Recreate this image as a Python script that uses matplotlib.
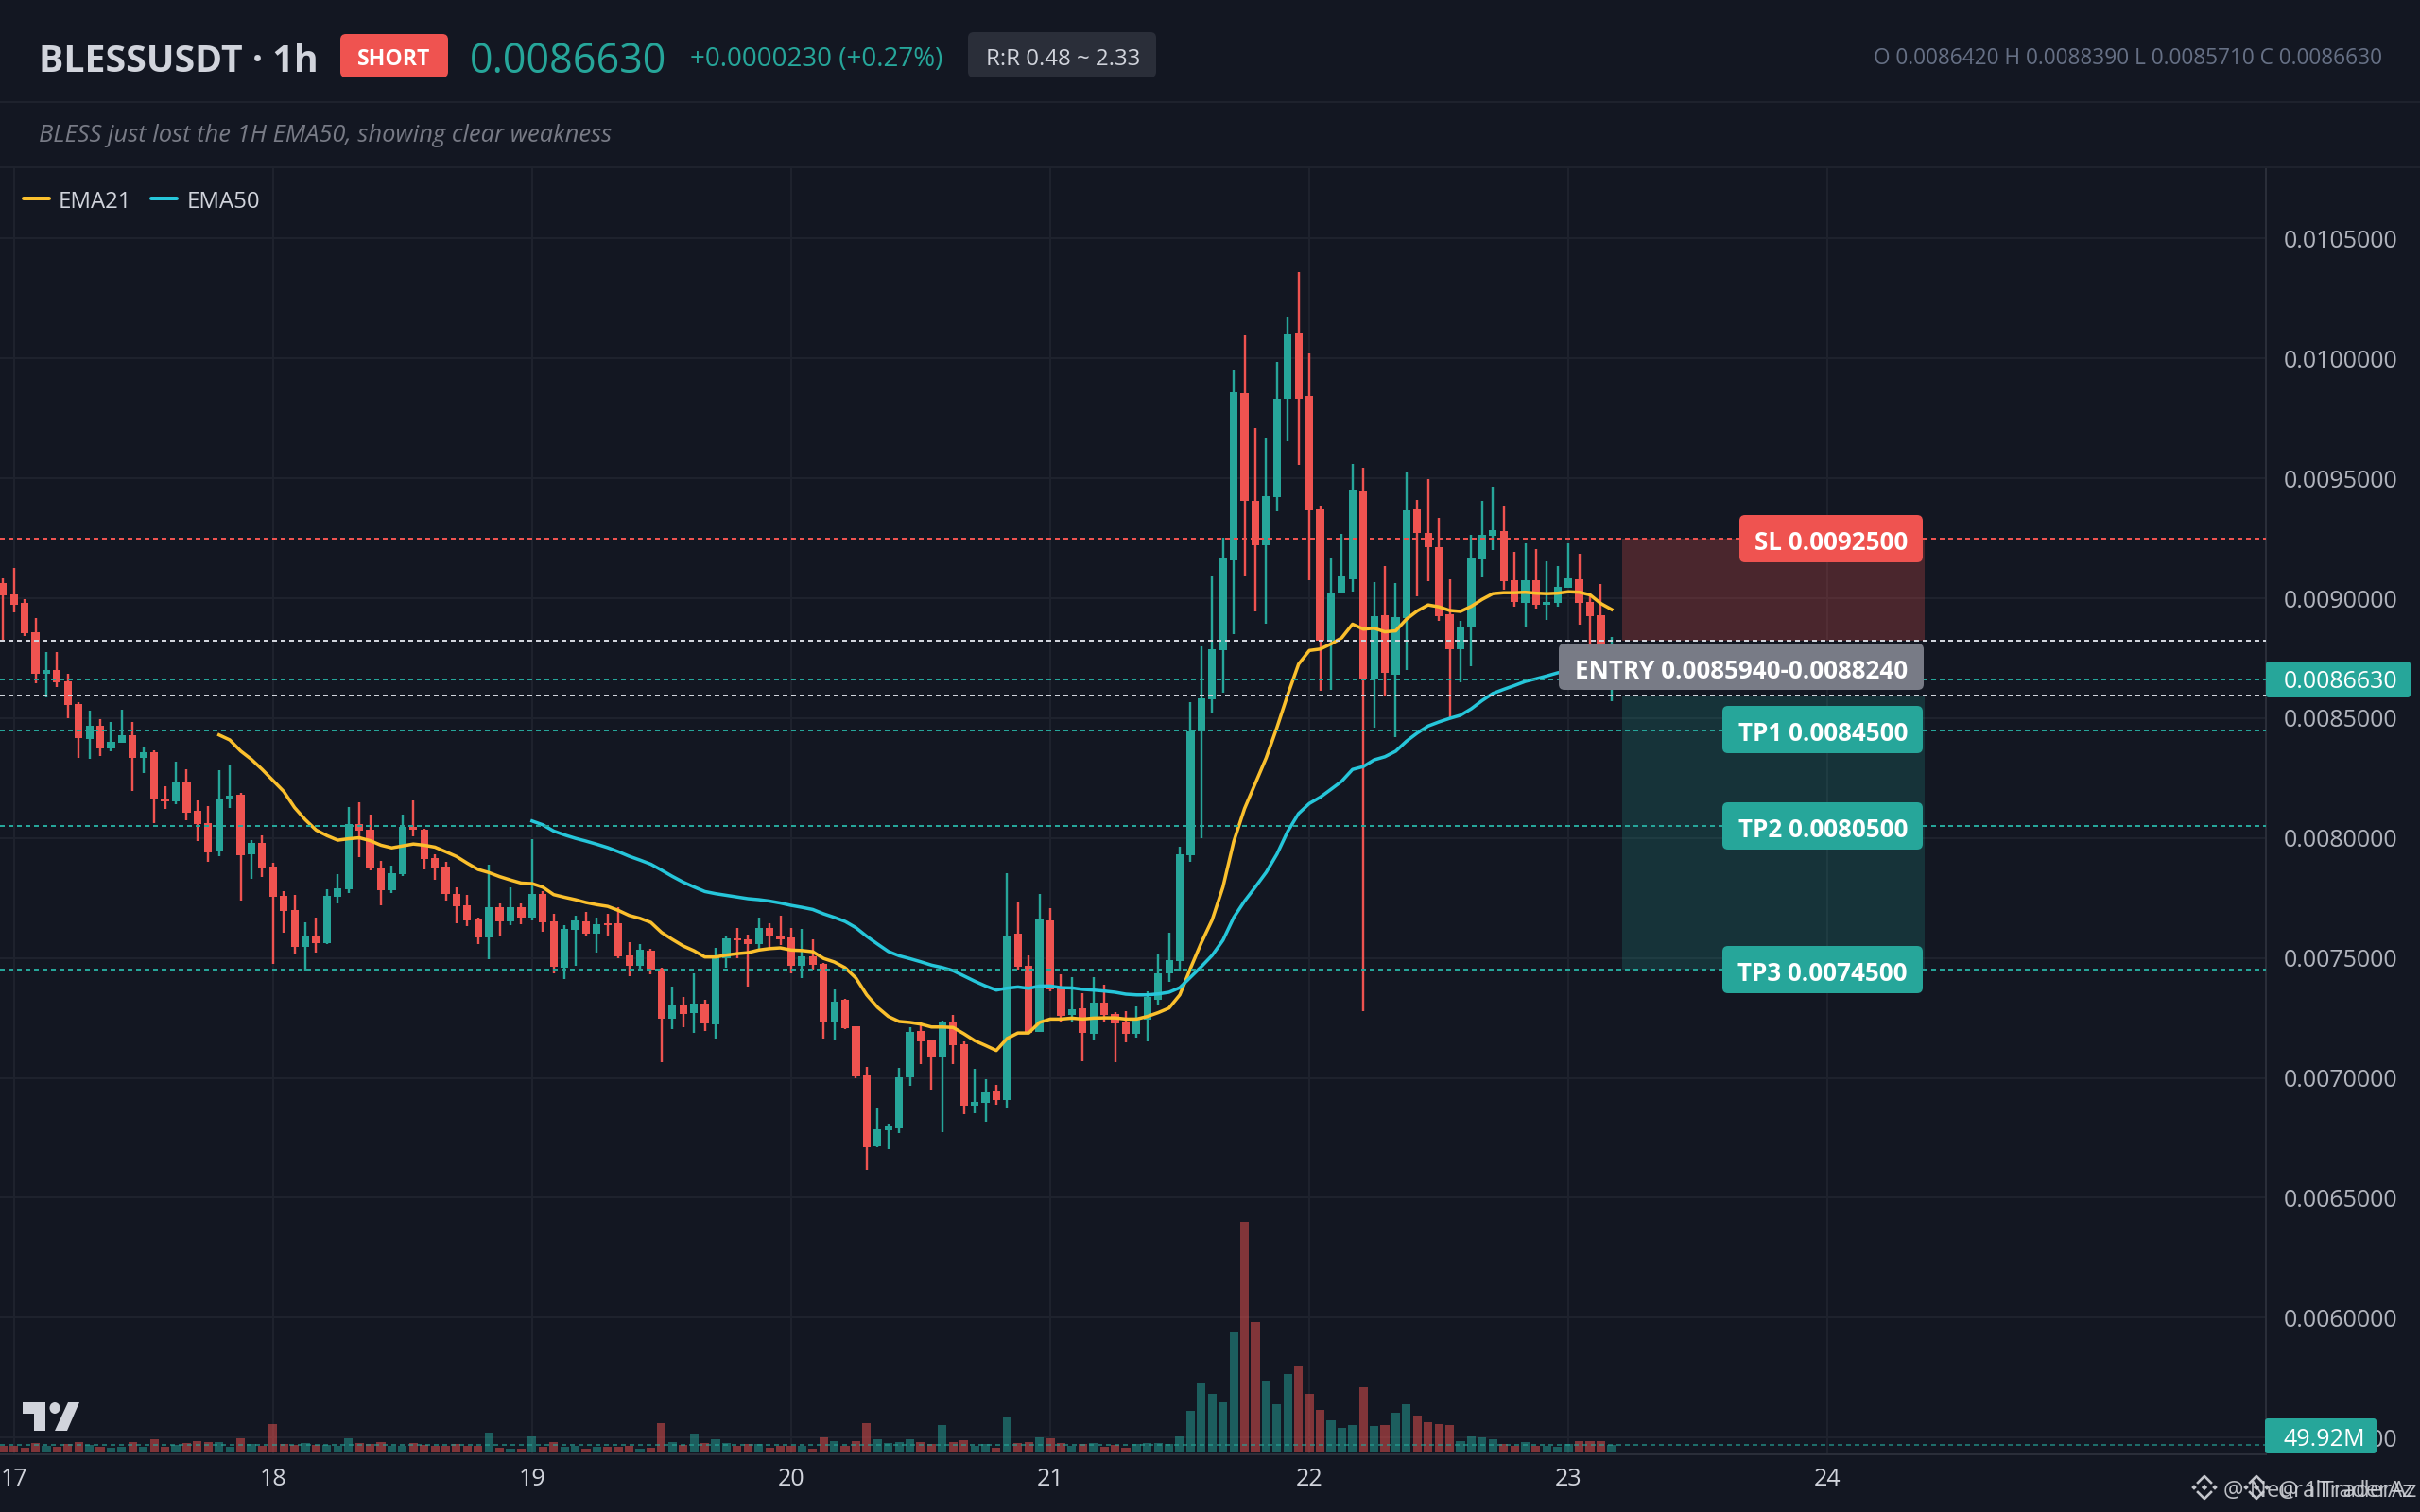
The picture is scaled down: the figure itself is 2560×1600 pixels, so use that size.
import matplotlib
matplotlib.use("Agg")
import matplotlib.pyplot as plt
from matplotlib.patches import FancyBboxPatch, Polygon, Ellipse, Rectangle

plt.rcParams['font.family'] = ['Open Sans', 'DejaVu Sans']

# ---- data (prices in 1e-6 units, volume in millions, x = hours since the 17th 00:00) ----
first_hour = -1
opens = [9062,9014,8979,8857,8684,8699,8652,8558,8412,8467,8373,8396,8428,8333,8357,8160,8152,8235,8113,8062,
 7944,8160,8180,7932,7979,7881,7758,7699,7546,7593,7562,7755,7786,8058,8034,7877,7782,7849,8046,8034,7916,7881,
 7766,7719,7660,7585,7711,7652,7711,7668,7766,7652,7459,7617,7652,7601,7644,7644,7510,7467,7530,7455,7247,7306,
 7270,7310,7223,7498,7581,7577,7558,7624,7593,7585,7467,7506,7475,7231,7325,7215,7010,6715,6782,6790,7002,7195,
 7156,7085,7231,7140,6884,6896,6943,6908,7601,7467,7191,7656,7373,7262,7290,7184,7313,7266,7231,7184,7241,7327,
 7437,7488,7929,8444,8577,8784,9158,9857,9407,9221,9422,9831,10108,9844,9371,8822,9021,9080,9447,8666,8930,8681,
 8917,9371,9272,9211,8934,8788,8879,9162,9259,9280,9076,8980,9076,8974,8980,9044,9080,8985,8930,8642]
highs = [9081,9125,8995,8916,8777,8777,8686,8566,8530,8495,8483,8534,8483,8377,8365,8215,8317,8286,8156,8132,
 8282,8302,8188,7991,8010,7895,7778,7762,7648,7668,7786,7849,8129,8148,8097,7904,7884,8097,8156,8038,7932,7900,
 7794,7762,7668,7888,7727,7794,7727,7995,7778,7684,7636,7676,7692,7668,7684,7711,7565,7558,7538,7459,7380,7337,
 7436,7325,7542,7593,7624,7597,7668,7644,7676,7624,7621,7577,7479,7369,7329,7215,7046,6876,6810,7042,7211,7231,
 7160,7239,7262,7152,7038,6995,6971,7853,7731,7510,7766,7707,7432,7420,7353,7420,7388,7274,7278,7298,7359,7515,
 7606,7963,8567,8799,9095,9253,9948,10097,9711,9667,9986,10176,10361,10022,9386,9166,9270,9561,9544,9067,9135,9063,
 9525,9411,9498,9335,9080,8907,9266,9407,9466,9388,9194,9230,9206,9152,9135,9230,9185,9010,9059,8839]
lows = [8824,8940,8842,8646,8587,8630,8499,8333,8329,8341,8361,8396,8195,8270,8062,8121,8140,8073,7987,7900,
 7924,8125,7739,7829,7837,7475,7605,7514,7449,7522,7558,7727,7770,7920,7865,7719,7770,7841,8006,7869,7825,7739,
 7644,7633,7558,7495,7589,7636,7640,7656,7609,7436,7412,7467,7589,7522,7593,7498,7424,7455,7432,7065,7203,7211,
 7187,7195,7164,7459,7498,7380,7534,7538,7554,7436,7416,7451,7164,7160,7203,6999,6617,6711,6703,6770,6967,7058,
 6951,6774,7058,6849,6853,6817,6888,6876,7451,7187,7191,7361,7235,7235,7069,7160,7235,7065,7148,7168,7152,7306,
 7401,7443,7902,8001,8524,8607,8852,9092,8945,8894,9363,9654,9557,9075,8615,8619,9021,9029,7279,8461,8592,8421,
 8702,9008,9071,8907,8503,8649,8717,9088,9200,9035,8966,8879,8955,8911,8966,9044,8890,8799,8620,8571]
closes = [9012,8971,8854,8684,8699,8650,8555,8416,8467,8373,8400,8428,8333,8357,8160,8152,8235,8105,8058,7940,
 8164,8176,7928,7979,7877,7755,7695,7546,7593,7562,7758,7790,8058,8030,7873,7782,7853,8046,8034,7912,7877,7766,
 7715,7656,7585,7711,7652,7711,7668,7766,7648,7463,7621,7656,7601,7640,7636,7506,7467,7534,7451,7247,7306,7266,
 7310,7227,7502,7581,7573,7558,7624,7589,7577,7467,7506,7471,7235,7317,7207,7006,6711,6786,6798,7002,7191,7152,
 7089,7235,7136,6884,6900,6939,6908,7593,7463,7187,7660,7369,7258,7286,7187,7313,7262,7227,7184,7241,7337,7437,
 7492,7933,8446,8584,8788,9166,9861,9407,9221,9426,9831,10104,9831,9367,8822,9025,9092,9453,8664,8926,8689,8921,
 9367,9272,9211,8926,8788,8883,9171,9266,9285,9071,8985,9076,8972,8985,9048,9084,8980,8926,8642,8663]
volumes = [42,42,30,60,42,36,54,66,48,36,30,36,66,36,84,36,48,60,72,66,66,36,90,54,42,180,54,48,60,48,48,42,90,60,
 54,66,42,42,60,48,42,42,54,42,42,126,30,24,24,102,36,66,36,42,24,36,36,36,42,24,30,186,66,48,120,60,84,60,42,54,
 54,30,42,42,42,24,96,72,42,72,186,84,60,66,84,66,54,174,66,78,42,54,30,228,60,66,96,90,60,42,54,60,36,48,30,54,60,
 60,54,102,264,444,372,318,762,1464,828,456,306,498,546,372,270,204,156,174,414,168,174,252,306,234,192,180,174,
 72,102,96,84,54,42,66,42,42,36,54,72,72,72,50]

ema21_start = 19
ema21 = [8430,8409,8363,8328,8286,8240,8194,8127,8076,8033,8010,7991,7997,8001,7989,7970,7959,7967,7975,7970,7962,
 7943,7923,7895,7869,7856,7839,7825,7812,7810,7795,7764,7753,7743,7731,7722,7715,7698,7677,7665,7648,7606,7577,
 7550,7530,7504,7504,7512,7518,7522,7533,7539,7542,7533,7531,7526,7498,7483,7459,7416,7346,7294,7256,7235,7231,
 7224,7212,7212,7210,7184,7155,7135,7114,7164,7187,7187,7231,7245,7245,7249,7245,7249,7250,7250,7245,7245,7256,
 7272,7291,7346,7458,7564,7659,7796,7986,8123,8229,8334,8461,8598,8725,8782,8788,8809,8835,8892,8871,8875,8860,
 8864,8913,8947,8972,8964,8949,8945,8966,8995,9019,9023,9023,9025,9021,9019,9021,9027,9025,9014,8978,8953]
ema50_start = 48
ema50 = [8071,8055,8029,8013,7999,7987,7974,7960,7943,7924,7908,7891,7866,7840,7816,7796,7777,7768,7761,7754,7747,
 7743,7737,7729,7719,7711,7702,7684,7669,7652,7626,7590,7558,7527,7509,7497,7484,7470,7460,7447,7425,7403,7383,
 7366,7374,7379,7373,7383,7383,7376,7375,7369,7366,7362,7357,7349,7346,7346,7350,7357,7376,7420,7464,7511,7574,
 7669,7737,7796,7857,7933,8028,8102,8144,8170,8203,8237,8286,8298,8326,8339,8362,8404,8438,8467,8484,8499,8512,
 8539,8573,8603,8620,8636,8653,8664,8676,8689,8698,8712,8720,8730,8738]

stop_loss = 0.00925
entry_high = 0.008824
entry_low = 0.008594
take_profits = [0.00845, 0.00805, 0.00745]
last_price = 0.008663
last_volume = 49.92
zone_start, zone_end = 149, 177
price_ticks = [0.0055, 0.0060, 0.0065, 0.0070, 0.0075, 0.0080, 0.0085, 0.0090, 0.0095, 0.0100, 0.0105]
day_ticks = [0, 24, 48, 72, 96, 120, 144, 168]
day_labels = ['17', '18', '19', '20', '21', '22', '23', '24']

# ---- style ----
BG = '#131722'; GRID = '#1e222d'; AXIS = '#2a2e39'; UP = '#26a69a'; DOWN = '#ef5350'
TXT = '#d1d4dc'; EMA_A = '#fbc02d'; EMA_B = '#26c6da'; ENTRY = '#787b86'
W, H = 2560, 1600
L, R, T, B = 0, 2397, 177, 1539
pt = 72 / 100  # points per pixel at dpi 100

fig = plt.figure(figsize=(25.6, 16), dpi=100, facecolor=BG)
rect = [L / W, 1 - B / H, (R - L) / W, (B - T) / H]
ax = fig.add_axes(rect, facecolor=BG, zorder=1)
axv = fig.add_axes(rect, facecolor='none', zorder=2)
ov = fig.add_axes([0, 0, 1, 1], facecolor='none', zorder=3)
ov.set_xlim(0, W); ov.set_ylim(H, 0); ov.axis('off')

px_per_hour = 11.42
x0 = 14.7
xlim = ((L - x0) / px_per_hour, (R - x0) / px_per_hour)
ax.set_xlim(*xlim)
ax.set_ylim(0.00543, 0.010797)
axv.set_xlim(*xlim)
axv.set_ylim(-12, (1537 - T) * 5.99)
axv.axis('off')

for s in ['top', 'left']:
    ax.spines[s].set_visible(False)
for s in ['right', 'bottom']:
    ax.spines[s].set_color(AXIS); ax.spines[s].set_linewidth(2 * pt)
ax.yaxis.tick_right()
ax.set_yticks(price_ticks)
ax.set_yticklabels([f'{p:.7f}' for p in price_ticks], fontsize=25 * pt, color='#b2b5be', ha='left')
ax.set_xticks(day_ticks)
ax.set_xticklabels(day_labels, fontsize=25 * pt, color=TXT)
ax.tick_params(axis='y', length=0, pad=19 * pt)
ax.tick_params(axis='x', length=0, pad=14 * pt)
ax.grid(True, color=GRID, lw=2 * pt, zorder=0)
ax.set_axisbelow(True)

# trade zones
ax.add_patch(Rectangle((zone_start, entry_high), zone_end - zone_start, stop_loss - entry_high,
                       fc=DOWN, alpha=0.25, ec='none', zorder=1))
ax.add_patch(Rectangle((zone_start, take_profits[2]), zone_end - zone_start, entry_low - take_profits[2],
                       fc=UP, alpha=0.2, ec='none', zorder=1))

# candles + volume
for i, (o, h, l, c, v) in enumerate(zip(opens, highs, lows, closes, volumes)):
    x = first_hour + i
    col = UP if c >= o else DOWN
    ax.vlines(x, l * 1e-6, h * 1e-6, color=col, lw=2.4 * pt, zorder=3)
    ax.add_patch(Rectangle((x - 0.36, min(o, c) * 1e-6), 0.72, max(abs(c - o), 8) * 1e-6,
                           fc=col, ec='none', zorder=4, snap=True))
    axv.bar(x, v, width=0.8, color=col, alpha=0.5, lw=0)

# EMAs
ax.plot(range(ema21_start, ema21_start + len(ema21)), [v * 1e-6 for v in ema21], color=EMA_A, lw=3.5 * pt, zorder=5)
ax.plot(range(ema50_start, ema50_start + len(ema50)), [v * 1e-6 for v in ema50], color=EMA_B, lw=3.5 * pt, zorder=5)

# price lines
dash = (0, (2.5, 2.0))
ax.axhline(stop_loss, color=DOWN, lw=2 * pt, ls=dash, zorder=6)
for p in [entry_high, entry_low]:
    ax.axhline(p, color=TXT, lw=2 * pt, ls=dash, zorder=6)
for p in take_profits + [last_price]:
    ax.axhline(p, color=UP, lw=2 * pt, ls=dash, zorder=6)
axv.axhline(last_volume, color=UP, lw=2 * pt, ls=dash, alpha=0.6)


def box(x0_, y0_, x1_, y1_, fc, r=6):
    ov.add_patch(FancyBboxPatch((x0_ + r, y0_ + r), x1_ - x0_ - 2 * r, y1_ - y0_ - 2 * r,
                                boxstyle=f'round,pad={r},rounding_size={r}', fc=fc, ec='none'))


def text(x, y, s, size, color=TXT, ha='left', weight='normal', style='normal', **kw):
    ov.text(x, y, s, fontsize=size * pt, color=color, ha=ha, va='center_baseline',
            fontweight=weight, fontstyle=style, **kw)


# header
ov.plot([0, W], [108, 108], color=GRID, lw=2 * pt)
ov.plot([0, W], [177, 177], color=GRID, lw=2 * pt)
text(41, 61, 'BLESSUSDT · 1h', 39.2, weight='bold')
box(360, 36, 474, 82, DOWN)
text(417, 60, 'SHORT', 23, color='white', ha='center', weight='bold')
text(497, 60, '0.0086630', 43.2, color=UP)
text(730, 60, '+0.0000230 (+0.27%)', 27.8, color=UP)
box(1024, 34, 1223, 82, AXIS)
text(1043, 60, 'R:R 0.48 ~ 2.33', 24)
text(2520, 59, 'O 0.0086420 H 0.0088390 L 0.0085710 C 0.0086630', 22.65, color='#667085', ha='right')
text(41, 141, 'BLESS just lost the 1H EMA50, showing clear weakness', 25.5, color=ENTRY, style='italic')

# legend
ov.plot([25, 52], [210, 210], color=EMA_A, lw=4 * pt, solid_capstyle='round')
text(62, 211, 'EMA21', 24, weight='medium')
ov.plot([160, 187], [210, 210], color=EMA_B, lw=4 * pt, solid_capstyle='round')
text(198, 211, 'EMA50', 24, weight='medium')

# trade labels
box(1840, 545, 2034, 595, DOWN)
text(2018, 571, 'SL 0.0092500', 26, color='white', ha='right', weight='bold')
box(1649, 681, 2035, 730, ENTRY)
text(2018, 707, 'ENTRY 0.0085940-0.0088240', 26, color='white', ha='right', weight='bold')
box(1822, 747, 2034, 797, UP)
text(2018, 773, 'TP1 0.0084500', 26, color='white', ha='right', weight='bold')
box(1822, 849, 2034, 899, UP)
text(2018, 875, 'TP2 0.0080500', 26, color='white', ha='right', weight='bold')
box(1822, 1001, 2034, 1051, UP)
text(2018, 1027, 'TP3 0.0074500', 26, color='white', ha='right', weight='bold')

# axis tags
box(2397, 700, 2550, 738, UP, r=3)
text(2416, 719, '0.0086630', 25, color='white')
box(2396, 1501, 2514, 1538, UP, r=3)
text(2416, 1520, '49.92M', 25, color='white')

# TradingView mark
ov.add_patch(Polygon([(24, 1484), (48, 1484), (48, 1514), (36, 1514), (36, 1496), (24, 1496)], fc=TXT, ec='none'))
ov.add_patch(Ellipse((58, 1490), 11, 12, fc=TXT, ec='none'))
ov.add_patch(Polygon([(72, 1484), (84, 1484), (71, 1514), (58, 1514)], fc=TXT, ec='none'))


# watermark
def diamond(cx, cy):
    c = '#c4c6cc'
    for dx, dy, r in [(0, 0, 3.2), (-11, 0, 2.8), (11, 0, 2.8)]:
        ov.add_patch(Polygon([(cx + dx - r, cy + dy), (cx + dx, cy + dy - r), (cx + dx + r, cy + dy), (cx + dx, cy + dy + r)],
                             fc=c, ec='none'))
    ov.plot([cx - 7, cx, cx + 7], [cy - 5, cy - 12, cy - 5], color=c, lw=2.6 * pt)
    ov.plot([cx - 7, cx, cx + 7], [cy + 5, cy + 12, cy + 5], color=c, lw=2.6 * pt)


diamond(2332, 1574)
diamond(2387, 1574)
text(2352, 1575, '@ NeuralTraderAz', 24, color='#d0d2d8', alpha=0.9)
text(2552, 1575, '@ 1TraderAz', 24, color='#d0d2d8', ha='right', alpha=0.9)

fig.savefig('out.png', dpi=100, facecolor=BG)
